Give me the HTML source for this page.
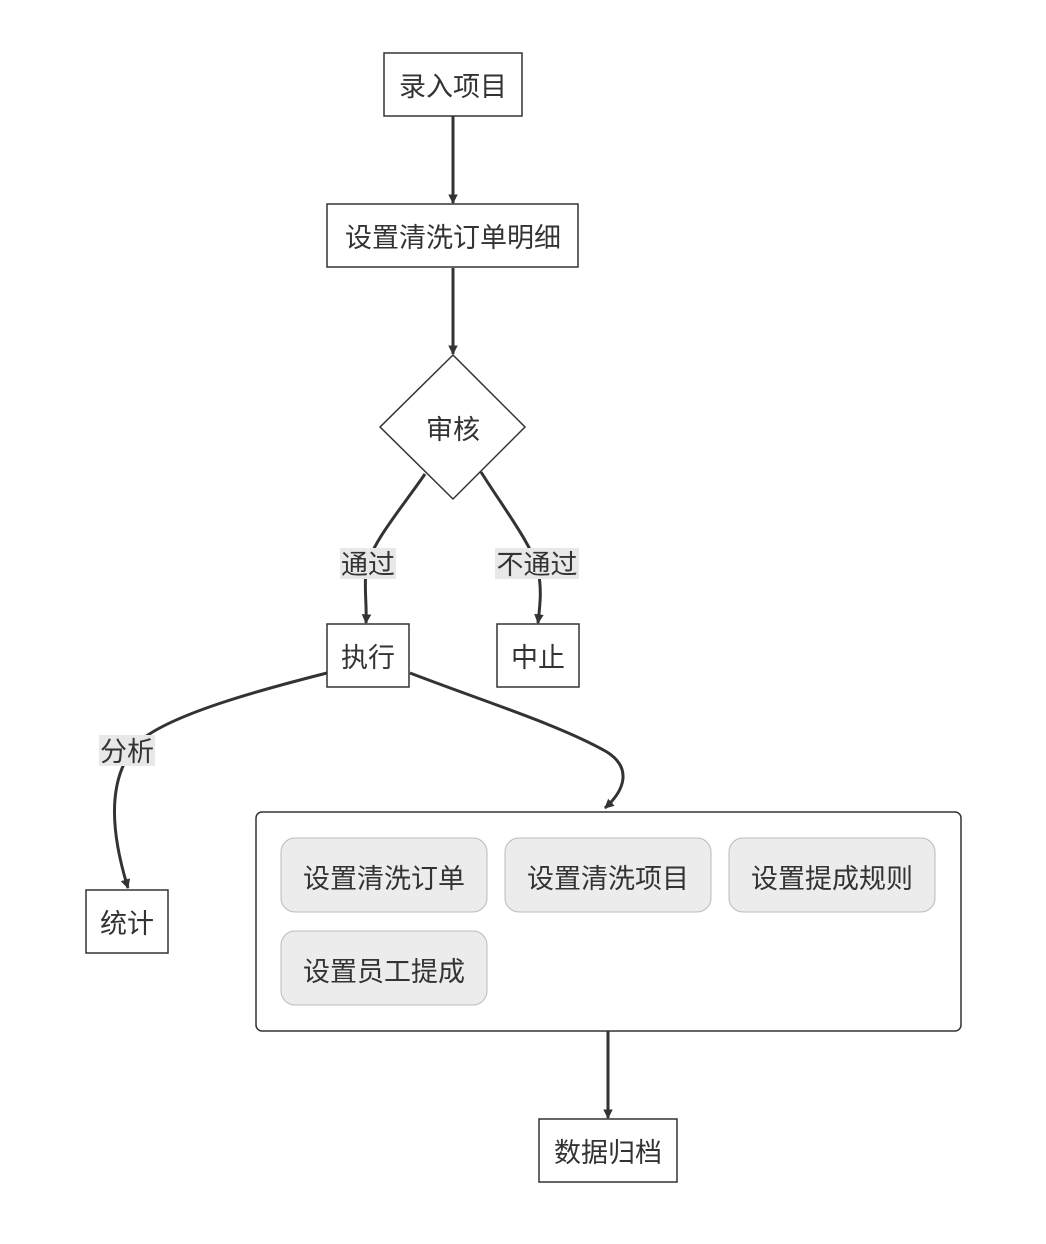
<!DOCTYPE html>
<html><head><meta charset="utf-8"><style>
html,body{margin:0;padding:0;background:#fff;}
text{font-family:"Liberation Sans","Noto Sans CJK SC",sans-serif;fill:#333;}
</style></head><body>
<svg width="1046" height="1239" viewBox="0 0 1046 1239" xmlns="http://www.w3.org/2000/svg">
<defs><marker id="a" viewBox="0 0 10 10" refX="9" refY="5" markerWidth="7" markerHeight="7" orient="auto" markerUnits="userSpaceOnUse"><path d="M0,0L10,5L0,10z" fill="#333"/></marker>
<marker id="b" viewBox="0 0 10 10" refX="9" refY="5" markerWidth="3.2" markerHeight="3.2" orient="auto"><path d="M0,0L10,5L0,10z" fill="#333"/></marker></defs>
<g fill="none" stroke="#333" stroke-width="3" marker-end="url(#b)">
<path d="M453,116 L453,203"/>
<path d="M453,268 L453,354"/>
<path d="M425,474 C400,510 370,545 366,570 C364,590 367,605 366,623"/>
<path d="M481,472 C505,510 532,545 538,570 C542,590 540,605 538,623"/>
<path d="M327,673 C260,690 180,712 145,737 C105,770 110,830 128,888"/>
<path d="M410,673 C480,700 560,725 607,752 C632,768 625,790 605,808"/>
<path d="M608,1031 L608,1118"/>
</g>
<g fill="#fff" stroke="#333" stroke-width="1.5">
<rect x="384" y="53" width="138" height="63"/>
<rect x="327" y="204" width="251" height="63"/>
<path d="M453,355 L525,427 L453,499 L380,427 Z"/>
<rect x="327" y="624" width="82" height="63"/>
<rect x="497" y="624" width="82" height="63"/>
<rect x="86" y="890" width="82" height="63"/>
<rect x="539" y="1119" width="138" height="63"/>
<rect x="256" y="812" width="705" height="219" rx="6"/>
</g>
<g fill="#ececec" stroke="#bbb" stroke-width="1">
<rect x="281" y="838" width="206" height="74" rx="14"/>
<rect x="505" y="838" width="206" height="74" rx="14"/>
<rect x="729" y="838" width="206" height="74" rx="14"/>
<rect x="281" y="931" width="206" height="74" rx="14"/>
</g>
<g fill="#e8e8e8">
<rect x="340" y="548" width="56" height="31"/>
<rect x="495" y="548" width="84" height="31"/>
<rect x="99" y="735" width="56" height="31"/>
</g>
<g font-size="27" text-anchor="middle">
<text x="453" y="96">录入项目</text>
<text x="453" y="247">设置清洗订单明细</text>
<text x="453" y="439">审核</text>
<text x="368" y="574">通过</text>
<text x="537" y="574">不通过</text>
<text x="368" y="667">执行</text>
<text x="538" y="667">中止</text>
<text x="127" y="761">分析</text>
<text x="127" y="933">统计</text>
<text x="384" y="888">设置清洗订单</text>
<text x="608" y="888">设置清洗项目</text>
<text x="832" y="888">设置提成规则</text>
<text x="384" y="981">设置员工提成</text>
<text x="608" y="1162">数据归档</text>
</g>
</svg>
</body></html>
